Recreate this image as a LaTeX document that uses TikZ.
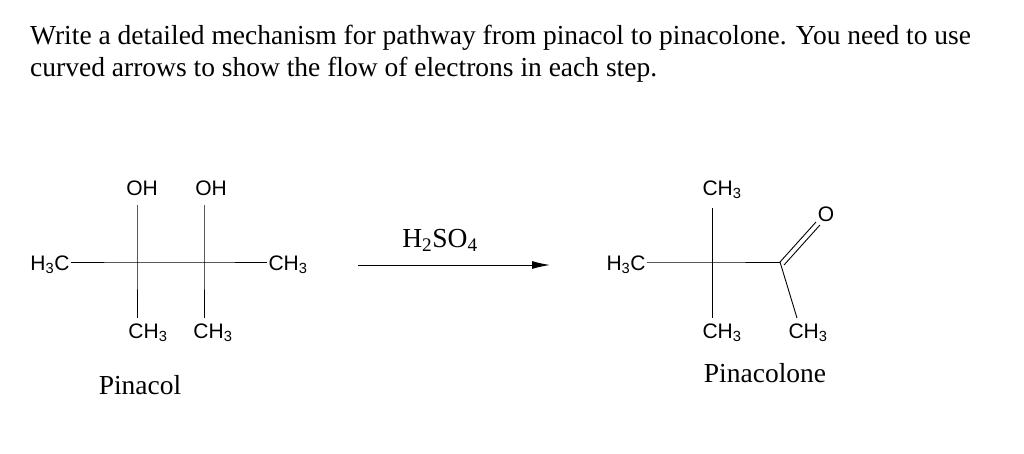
\documentclass[tikz,border=0pt]{standalone}
\usepackage{fontspec}
\usetikzlibrary{arrows.meta}
\setmainfont{Liberation Serif}
\newfontfamily\chemsans{Liberation Sans}
\newcommand{\sbs}[1]{\textsubscript{#1}}
\begin{document}
\begin{tikzpicture}[x=1pt,y=-1pt,
  lbl/.style={font=\chemsans\fontsize{21}{24}\selectfont, inner sep=1pt},
  captext/.style={font=\fontsize{27.5}{30}\selectfont, inner sep=0pt},
  bond/.style={line width=0.9pt}]
\useasboundingbox (0,0) rectangle (1024,454);
\node[captext, anchor=west] (t1) at (30,38) {Write a detailed mechanism for pathway from pinacol to pinacolone. You need to use};
\node[captext, anchor=west] (t2) at (30,70) {curved arrows to show the flow of electrons in each step.};
% pinacol
\node[lbl] (a1) at (50,265) {H\sbs{3}C};
\node[lbl] (a2) at (288,265) {CH\sbs{3}};
\node[lbl] (o1) at (142,188) {OH};
\node[lbl] (o2) at (211,188) {OH};
\node[lbl] (m1) at (148,333) {CH\sbs{3}};
\node[lbl] (m2) at (213,333) {CH\sbs{3}};
\coordinate (c1) at (137,262);
\coordinate (c2) at (204,262);
\draw[bond] (a1.east |- c1) -- (c1) -- (c2) -- (a2.west |- c2);
\draw[bond] (137,205) -- (c1) -- (137,318);
\draw[bond] (204,205) -- (c2) -- (204,318);
\node[captext] (p1) at (140,385) {Pinacol};
% arrow
\coordinate (r1) at (358,265);
\coordinate (r2) at (550,265);
\draw[line width=1pt,-{Latex[length=18pt,width=8pt]}] (r1) -- (r2);
\node[captext] (h) at (440,240) {H\sbs{2}SO\sbs{4}};
% pinacolone
\node[lbl] (b1) at (626,265) {H\sbs{3}C};
\node[lbl] (b2) at (722,190) {CH\sbs{3}};
\node[lbl] (b3) at (722,333) {CH\sbs{3}};
\node[lbl] (b4) at (808,333) {CH\sbs{3}};
\node[lbl] (ox) at (826,214) {O};
\coordinate (d1) at (712,262);
\coordinate (d2) at (780,262);
\draw[bond] (b1.east |- d1) -- (d1) -- (d2);
\draw[bond] (712,208) -- (d1) -- (712,318);
\draw[bond] (d2) -- (797,318);
\draw[bond] (d2) -- (816,222);
\draw[bond] (784,265) -- (820,225);
\node[captext] (p2) at (765,373) {Pinacolone};
\end{tikzpicture}
\end{document}
